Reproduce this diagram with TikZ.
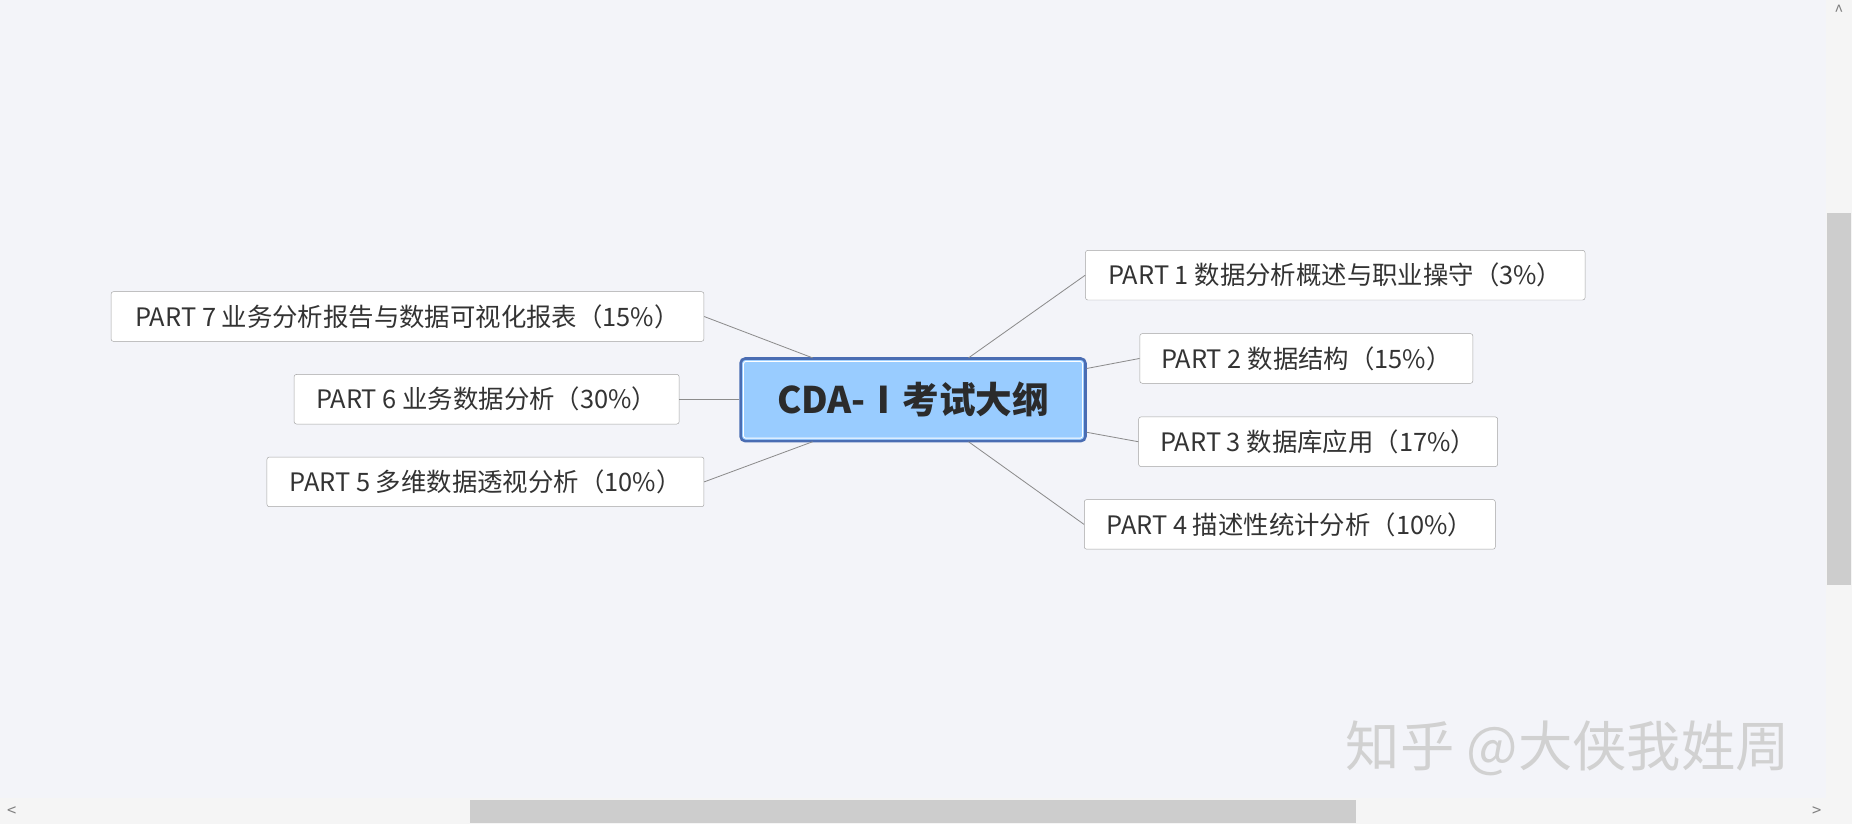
\documentclass[tikz,border=0pt]{standalone}
\usepackage{fontspec}
\setmainfont{Noto Sans CJK SC}
\definecolor{bg}{HTML}{F3F4F9}
\definecolor{ctrfill}{HTML}{99CCFF}
\definecolor{ctrline}{HTML}{4A6DB3}
\definecolor{txt}{HTML}{333333}
\definecolor{ln}{HTML}{8C8C8C}
\definecolor{sb}{HTML}{CDCDCD}
\tikzset{
 topic/.style={draw=ln!80, fill=white, rounded corners=2pt, minimum height=42pt, inner sep=0pt, font=\fontsize{21.5}{24}\selectfont, text=txt},
 conn/.style={draw=ln, line width=0.7pt},
}
\begin{document}
\begin{tikzpicture}[x=1pt,y=1pt]
\fill[bg] (0,0) rectangle (1568,698);
\useasboundingbox (0,0) rectangle (1568,698);
% scrollbars
\fill[white!96!black] (1546,22) rectangle (1568,698);
\fill[sb] (1547,203) rectangle (1567,518);
\fill[white!96!black] (0,0) rectangle (1568,22);
\fill[sb] (398,1) rectangle (1148,21);
\node[font=\fontsize{14}{14}\selectfont, text=gray] at (1557,688) {\^{}};
\node[font=\fontsize{14}{14}\selectfont, text=gray] at (10,11) {<};
\node[font=\fontsize{14}{14}\selectfont, text=gray] at (1538,11) {>};
% center
\node[draw=ctrline, line width=2.2pt, fill=ctrfill, rounded corners=4pt, minimum width=292pt, minimum height=70pt, font=\fontsize{31}{34}\selectfont\bfseries, text=txt!85!black] (c) at (773,359.5) {CDA-Ⅰ考试大纲};
\draw[white, line width=0.8pt, rounded corners=2pt] (629.5,327) rectangle (916.5,392);
% topics
\node[topic, minimum width=423pt] (p1) at (1130.5,465) {PART 1 数据分析概述与职业操守（3\%）};
\node[topic, minimum width=282pt] (p2) at (1106,394.5) {PART 2 数据结构（15\%）};
\node[topic, minimum width=304pt] (p3) at (1116,324) {PART 3 数据库应用（17\%）};
\node[topic, minimum width=348pt] (p4) at (1092,254) {PART 4 描述性统计分析（10\%）};
\node[topic, minimum width=502pt] (p7) at (345,430) {PART 7 业务分析报告与数据可视化报表（15\%）};
\node[topic, minimum width=326pt] (p6) at (412,360) {PART 6 业务数据分析（30\%）};
\node[topic, minimum width=370pt] (p5) at (411,290) {PART 5 多维数据透视分析（10\%）};
% connection points
\coordinate (c1) at (820,395);
\coordinate (c2) at (920,386);
\coordinate (c3) at (920,332);
\coordinate (c4) at (820,324);
\coordinate (c7) at (688,395);
\coordinate (c6) at (626,360);
\coordinate (c5) at (688,324);
\draw[conn] (c1) -- (p1.west);
\draw[conn] (c2) -- (p2.west);
\draw[conn] (c3) -- (p3.west);
\draw[conn] (c4) -- (p4.west);
\draw[conn] (c7) -- (p7.east);
\draw[conn] (c6) -- (p6.east);
\draw[conn] (c5) -- (p5.east);
% watermark
\node[anchor=west, font=\fontsize{46}{50}\selectfont, text=white!82!black] (wm) at (1136,64) {知乎 @大侠我姓周};
\end{tikzpicture}
\end{document}
